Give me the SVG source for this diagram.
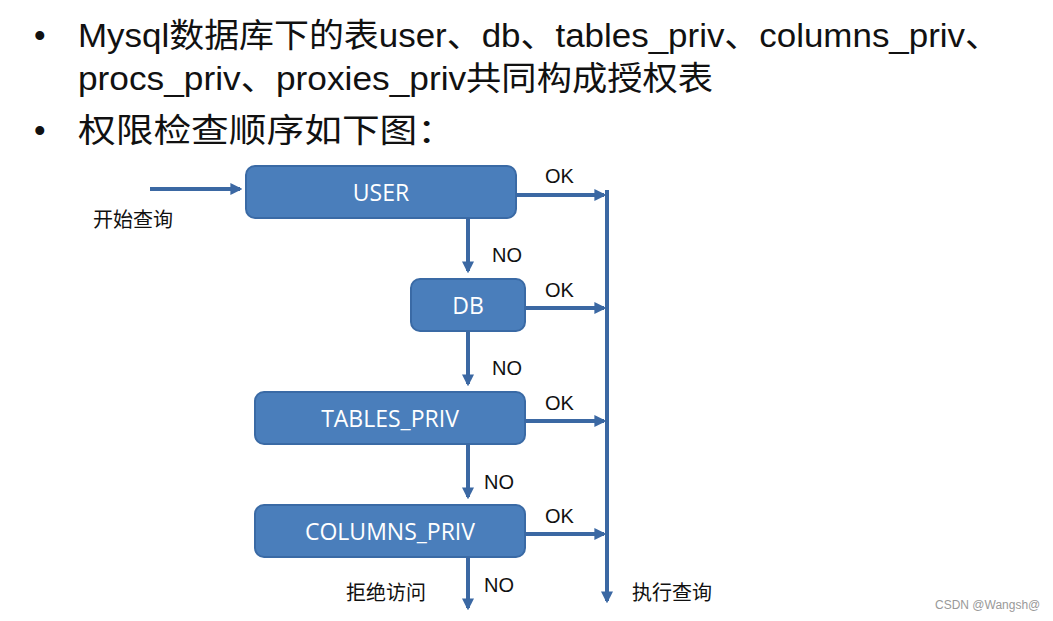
<svg xmlns="http://www.w3.org/2000/svg" width="1053" height="621" viewBox="0 0 1053 621">
<style>
.t{font-family:"Liberation Sans","Noto Sans CJK SC",sans-serif;fill:#111}
.b{font-size:33px}
.n rect{fill:#4a7ebb;stroke:#3a6aa5;stroke-width:2}
.n text{font-family:"Open Sans","Liberation Sans",sans-serif;font-size:23px;fill:#fff;text-anchor:middle}
.l{font-size:20px}
.c line{stroke:#3b68a3;stroke-width:4}
</style>
<defs><marker id="a" viewBox="0 0 10 10" refX="8" refY="5" markerWidth="3" markerHeight="3" orient="auto"><path d="M0,0L10,5L0,10z" fill="#3b68a3"/></marker></defs>
<rect width="1053" height="621" fill="#fff"/>
<text class="t b" x="34" y="47">•</text>
<text class="t b" x="78" y="47" textLength="922" lengthAdjust="spacingAndGlyphs">Mysql数据库下的表user、db、tables_priv、columns_priv、</text>
<text class="t b" x="78" y="90" textLength="635" lengthAdjust="spacingAndGlyphs">procs_priv、proxies_priv共同构成授权表</text>
<text class="t b" x="34" y="142">•</text>
<text class="t b" x="78" y="142" textLength="377" lengthAdjust="spacingAndGlyphs">权限检查顺序如下图：</text>
<g id="USER" class="n"><rect x="246" y="166" width="270" height="52" rx="9"/><text x="381" y="201">USER</text></g>
<g id="DB" class="n"><rect x="411" y="279" width="114" height="52" rx="9"/><text x="468" y="314">DB</text></g>
<g id="TABLES_PRIV" class="n"><rect x="255" y="392" width="270" height="52" rx="9"/><text x="390" y="427">TABLES_PRIV</text></g>
<g id="COLUMNS_PRIV" class="n"><rect x="255" y="505" width="270" height="52" rx="9"/><text x="390" y="540">COLUMNS_PRIV</text></g>
<g class="c">
<line x1="150" y1="189" x2="240" y2="189" marker-end="url(#a)"/>
<line x1="516" y1="195" x2="604" y2="195" marker-end="url(#a)"/>
<line x1="525" y1="308" x2="604" y2="308" marker-end="url(#a)"/>
<line x1="525" y1="421" x2="604" y2="421" marker-end="url(#a)"/>
<line x1="525" y1="534" x2="604" y2="534" marker-end="url(#a)"/>
<line x1="468" y1="218" x2="468" y2="271" marker-end="url(#a)"/>
<line x1="468" y1="331" x2="468" y2="384" marker-end="url(#a)"/>
<line x1="468" y1="444" x2="468" y2="497" marker-end="url(#a)"/>
<line x1="468" y1="557" x2="468" y2="608" marker-end="url(#a)"/>
<line x1="607" y1="190" x2="607" y2="601" marker-end="url(#a)"/>
</g>
<text class="t l" x="93" y="227">开始查询</text>
<text class="t l" x="545" y="183">OK</text>
<text class="t l" x="545" y="297">OK</text>
<text class="t l" x="545" y="410">OK</text>
<text class="t l" x="545" y="523">OK</text>
<text class="t l" x="492" y="262">NO</text>
<text class="t l" x="492" y="375">NO</text>
<text class="t l" x="484" y="489">NO</text>
<text class="t l" x="484" y="592">NO</text>
<text class="t l" x="346" y="600">拒绝访问</text>
<text class="t l" x="632" y="600">执行查询</text>
<text x="935" y="609" style="font-family:'Liberation Sans',sans-serif;font-size:12px;fill:#999">CSDN @Wangsh@</text>
</svg>
